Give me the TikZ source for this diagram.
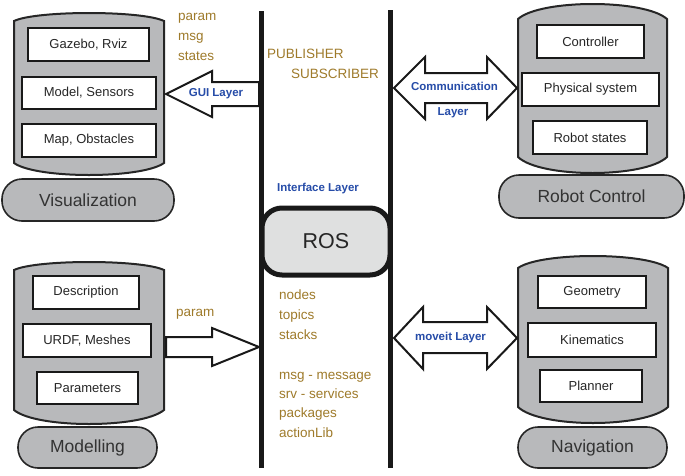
\documentclass[tikz,border=0pt]{standalone}
\usepackage{fontspec}
\setmainfont{Liberation Sans}
\usetikzlibrary{calc}
\definecolor{gbox}{RGB}{184,185,187}
\definecolor{rosfill}{RGB}{223,224,224}
\definecolor{goldt}{RGB}{158,122,42}
\definecolor{bluet}{RGB}{38,76,168}
\tikzset{
 cont/.style={draw=black!85, fill=gbox, line width=2pt},
 inbox/.style={draw=black!90, fill=white, line width=2.5pt, font=\fontsize{13}{15}\selectfont, inner sep=0pt, text=black!85},
 pill/.style={draw=black!85, fill=gbox, line width=1.6pt, rounded corners=20pt, inner sep=0pt, font=\fontsize{17.5}{20}\selectfont, text=black!80},
 bus/.style={line width=5pt, draw=black!90},
 blk/.style={draw=black!90, fill=white, line width=2pt, line join=miter},
 goldtxt/.style={text=goldt, font=\fontsize{13.5}{16}\selectfont, anchor=west, inner sep=0pt, text height=9.5pt, text depth=2.5pt},
 layer/.style={text=bluet, font=\fontsize{11.5}{14}\selectfont\bfseries, inner sep=0pt, text height=8.5pt, text depth=2.5pt},
}
\newcommand\drawbarrel[6]{%
 \draw[cont] (#1,#3) .. controls ({#1+0.15*(#2-#1)},{#3+(#4-#3)/0.75}) and ({#2-0.15*(#2-#1)},{#3+(#4-#3)/0.75}) .. (#2,#3)
  -- (#2,#5) .. controls ({#2-0.15*(#2-#1)},{#5+(#6-#5)/0.75}) and ({#1+0.15*(#2-#1)},{#5+(#6-#5)/0.75}) .. (#1,#5) -- cycle;}
\begin{document}
\begin{tikzpicture}[x=1pt,y=-1pt]
\useasboundingbox (0,0) rectangle (685,475);

% bus lines
\coordinate (lt) at (261,11); \coordinate (lb) at (261,468);
\coordinate (rt) at (390,10); \coordinate (rb) at (390,468);
\draw[bus] (lt) -- (lb);
\draw[bus] (rt) -- (rb);

% containers
\drawbarrel{14}{164}{21}{13}{163}{175}
\drawbarrel{518}{667}{19}{4}{157}{173}
\drawbarrel{14}{164}{270}{262}{410}{424}
\drawbarrel{518}{668}{268}{256}{407}{423}

% inner boxes
\node[inbox, minimum width=121pt, minimum height=33pt] (gz) at (88.5,44.5) {Gazebo, Rviz};
\node[inbox, minimum width=134pt, minimum height=32pt] (ms) at (89,93) {Model, Sensors};
\node[inbox, minimum width=134pt, minimum height=33pt] (mo) at (89,140.5) {Map, Obstacles};
\node[inbox, minimum width=107pt, minimum height=33pt] (ct) at (590.5,41.5) {Controller};
\node[inbox, minimum width=137pt, minimum height=33pt] (ps) at (590.5,89.5) {Physical system};
\node[inbox, minimum width=114pt, minimum height=33pt] (rs) at (590,137.5) {Robot states};
\node[inbox, minimum width=106pt, minimum height=33pt] (ds) at (86,292.5) {Description};
\node[inbox, minimum width=128pt, minimum height=33pt] (ur) at (87,340.5) {URDF, Meshes};
\node[inbox, minimum width=101pt, minimum height=32pt] (pa) at (87.5,388) {Parameters};
\node[inbox, minimum width=108pt, minimum height=32pt] (ge) at (592,292) {Geometry};
\node[inbox, minimum width=128pt, minimum height=34pt] (ki) at (592,340) {Kinematics};
\node[inbox, minimum width=102pt, minimum height=32pt] (pl) at (591,386) {Planner};

% pills
\node[pill, minimum width=172pt, minimum height=42pt] (viz) at (88,200) {Visualization};
\node[pill, minimum width=185pt, minimum height=43pt] (rc) at (591.5,196.5) {Robot Control};
\node[pill, minimum width=139pt, minimum height=41pt] (mod) at (87.5,447.5) {Modelling};
\node[pill, minimum width=149pt, minimum height=41pt] (nav) at (592.5,447.5) {Navigation};

% block arrows
\draw[blk] (166,94) -- (212,71) -- (212,82) -- (259,82) -- (259,106) -- (212,106) -- (212,117) -- cycle;
\draw[blk] (394,88) -- (425,57) -- (425,73) -- (487,73) -- (487,57) -- (517,88) -- (487,119) -- (487,103) -- (425,103) -- (425,119) -- cycle;
\draw[blk] (394,338) -- (423,307) -- (423,322) -- (487,322) -- (487,307) -- (517,338) -- (487,369) -- (487,353) -- (423,353) -- (423,369) -- cycle;
\draw[blk] (166,337) -- (212,337) -- (212,328) -- (259,347) -- (212,366) -- (212,357) -- (166,357) -- cycle;

% ROS
\node[draw=black!90, fill=rosfill, line width=5pt, rounded corners=20pt, minimum width=128pt, minimum height=67pt, inner sep=0pt, font=\fontsize{21.5}{24}\selectfont, text=black!85] (ros) at (326,241.5) {ROS};

% layer labels
\node[layer] (gui) at (216,93) {GUI Layer};
\node[layer] (com) at (454.5,87) {Communication};
\node[layer] (coml) at (453,112) {Layer};
\node[layer] (mov) at (450.5,337) {moveit Layer};
\node[layer] (ifl) at (318,188) {Interface Layer};

% gold texts
\node[goldtxt] (t1) at (178,17) {param};
\node[goldtxt] (t2) at (178,37) {msg};
\node[goldtxt] (t3) at (178,57) {states};
\node[goldtxt] (pub) at (267,55) {PUBLISHER};
\node[goldtxt] (sub) at (291,75) {SUBSCRIBER};
\node[goldtxt] (t4) at (176,313) {param};
\node[goldtxt] (n1) at (279,296) {nodes};
\node[goldtxt] (n2) at (279,316) {topics};
\node[goldtxt] (n3) at (279,336) {stacks};
\node[goldtxt] (n4) at (279,376) {msg - message};
\node[goldtxt] (n5) at (279,395) {srv - services};
\node[goldtxt] (n6) at (279,414) {packages};
\node[goldtxt] (n7) at (279,434) {actionLib};
\end{tikzpicture}
\end{document}
